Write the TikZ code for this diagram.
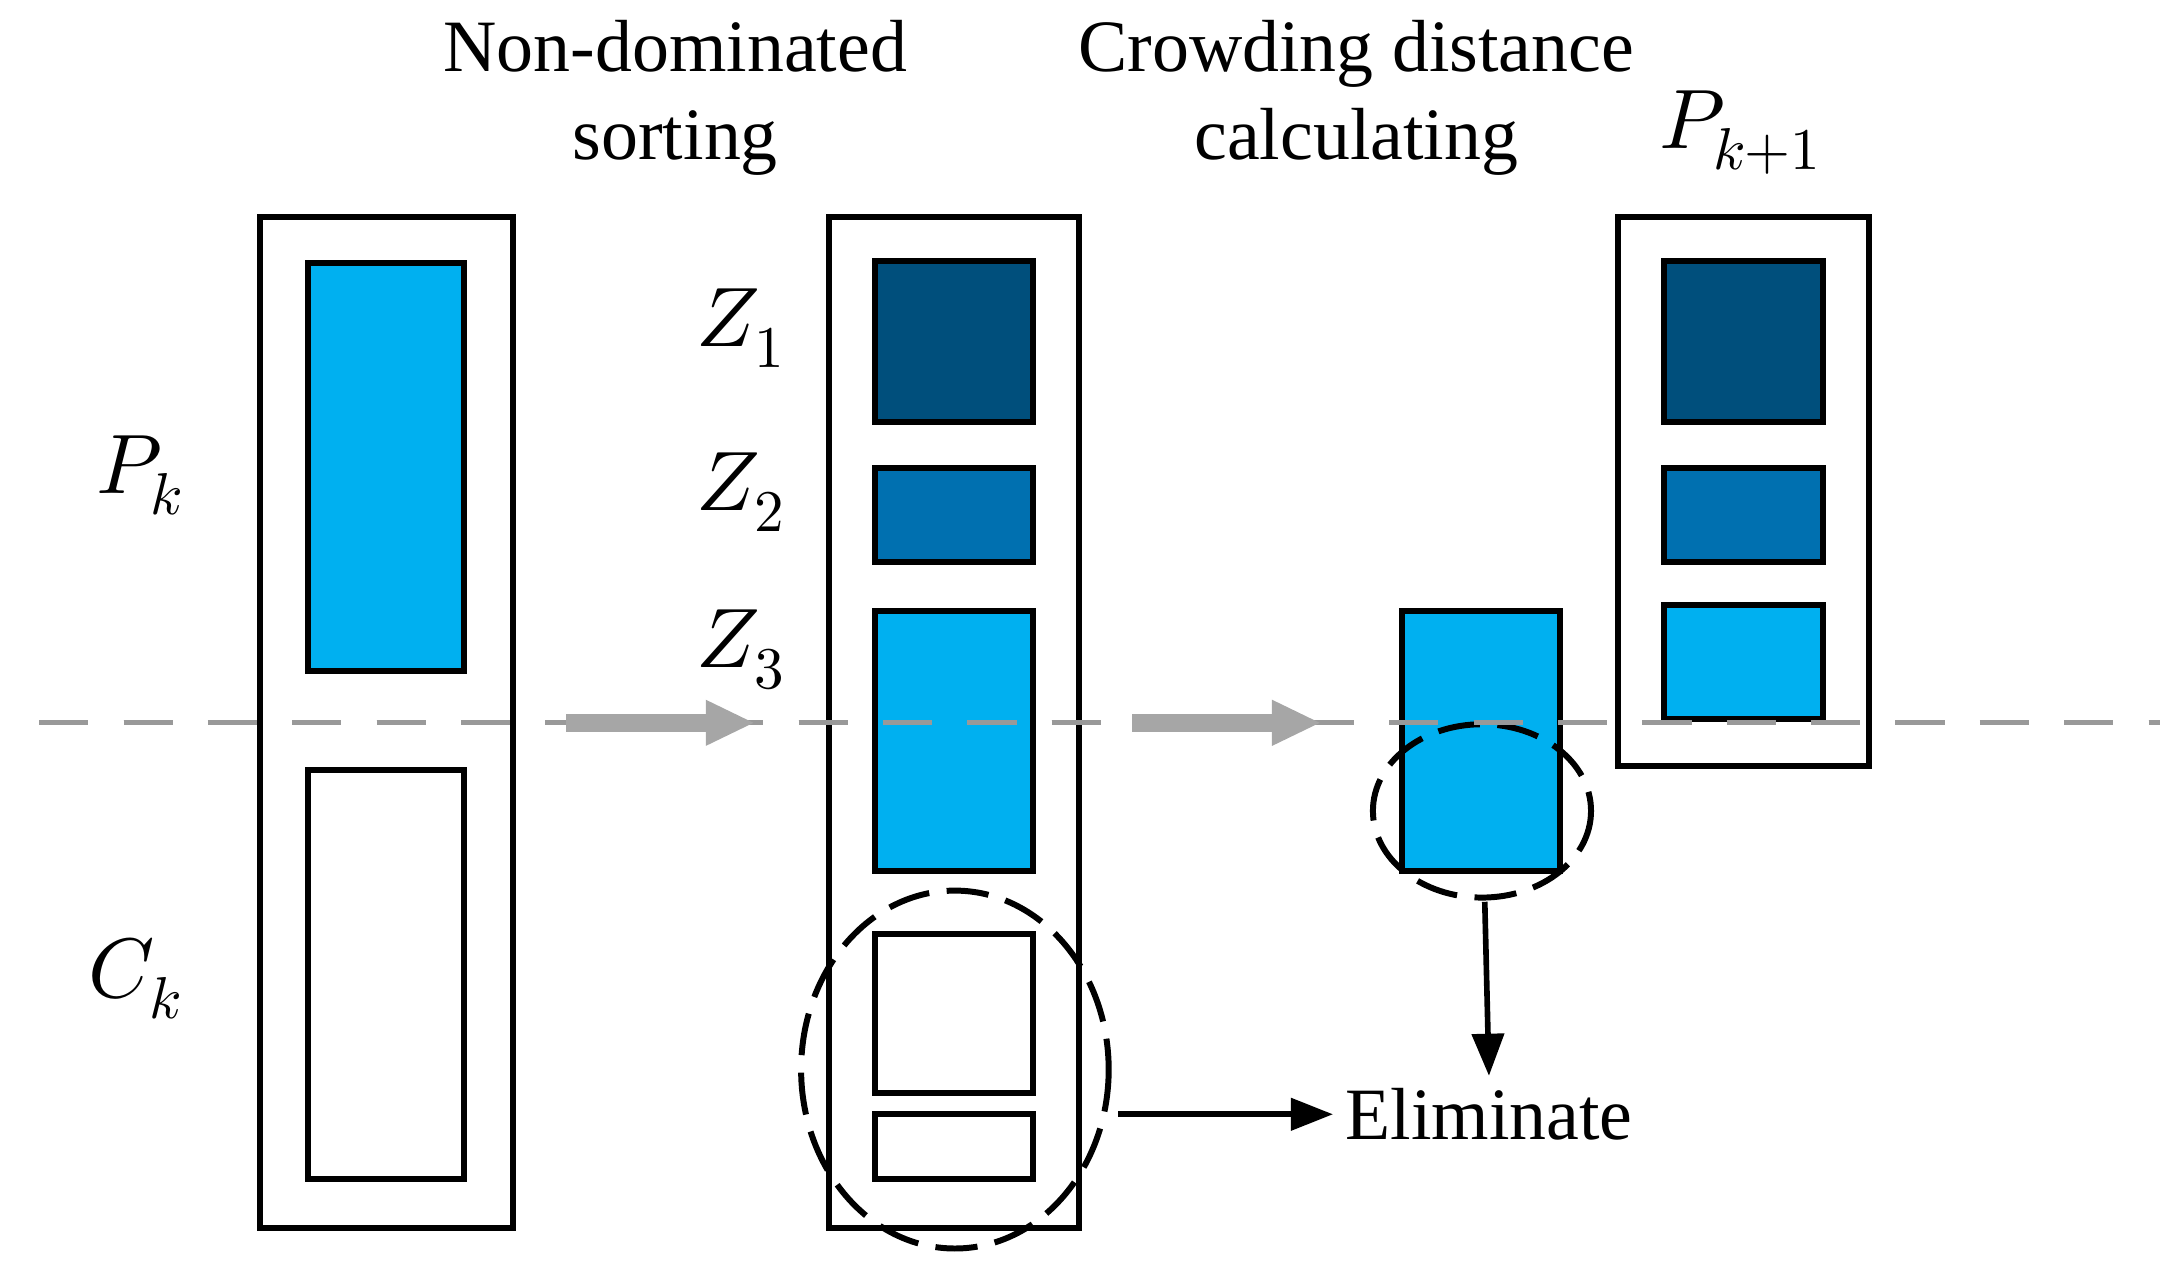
\documentclass[tikz,border=0pt]{standalone}
\usepackage{fontspec}
\setmainfont{Liberation Serif}
\usepackage{unicode-math}
\setmathfont{Latin Modern Math}
\usetikzlibrary{arrows.meta}
\definecolor{zone}{HTML}{004F7C}
\definecolor{ztwo}{HTML}{0070B0}
\definecolor{zthree}{HTML}{00B0F0}
\begin{document}
\begin{tikzpicture}[x=0.01398cm,y=-0.01398cm,
  box/.style={draw=black,line width=1.7pt},
  lbl/.style={font=\fontsize{21}{25}\selectfont,align=center},
  mlbl/.style={font=\fontsize{24}{28}\selectfont},
  elli/.style={draw=black,line width=1.7pt,dash pattern=on 12pt off 5pt},
  garrow/.style={-{Triangle[length=14pt,width=12pt]},line width=5pt,gray!70},
  karrow/.style={-{Triangle[length=12pt,width=9pt]},line width=1.6pt}]
\useasboundingbox (0,0) rectangle (1560,908);
% dashed guide line
\draw[gray!80,line width=1.4pt,dash pattern=on 14pt off 10pt] (28,517) -- (1545,517);
% left column
\draw[box] (186,155) rectangle (367,878);
\draw[box,fill=zthree] (220,188) rectangle (332,480);
\draw[box,fill=white] (220,551) rectangle (332,843);
\node[mlbl] (pk) at (100,340) {$P_k$};
\node[mlbl] (ck) at (97,700) {$C_k$};
% middle column
\draw[box] (593,155) rectangle (772,878);
\draw[box,fill=zone] (626,187) rectangle (739,302);
\draw[box,fill=ztwo] (626,335) rectangle (739,402);
\draw[box,fill=zthree] (626,437) rectangle (739,623);
\draw[box,fill=white] (626,668) rectangle (739,782);
\draw[box,fill=white] (626,797) rectangle (739,843);
\node[mlbl] (z1) at (530,235) {$Z_1$};
\node[mlbl] (z2) at (530,352) {$Z_2$};
\node[mlbl] (z3) at (530,465) {$Z_3$};
\draw[elli] (683,765) ellipse [x radius=110,y radius=128];
% front remainder
\draw[box,fill=zthree] (1003,437) rectangle (1116,623);
\draw[elli] (1060,580) ellipse [x radius=78,y radius=62];
% right column
\draw[box] (1157,155) rectangle (1337,548);
\draw[box,fill=zone] (1190,187) rectangle (1304,302);
\draw[box,fill=ztwo] (1190,335) rectangle (1304,402);
\draw[box,fill=zthree] (1190,433) rectangle (1304,514);
% redraw guide line over boxes
\draw[gray!80,line width=1.4pt,dash pattern=on 14pt off 10pt] (28,517) -- (1545,517);
% titles
\node[lbl] (t1) at (483,70) {Non-dominated\\sorting};
\node[lbl] (t2) at (970,70) {Crowding distance\\calculating};
\node[mlbl] (pk1) at (1245,95) {$P_{k+1}$};
\node[lbl] (elim) at (1065,797) {Eliminate};
% arrows
\coordinate (a1s) at (405,517); \coordinate (a1e) at (540,517);
\coordinate (a2s) at (810,517); \coordinate (a2e) at (945,517);
\draw[garrow] (a1s) -- (a1e);
\draw[garrow] (a2s) -- (a2e);
\coordinate (e1) at (800,797);
\draw[karrow] (e1) -- (elim.west);
\coordinate (e2) at (1062,645);
\draw[karrow] (e2) -- (elim.north);
\end{tikzpicture}
\end{document}
